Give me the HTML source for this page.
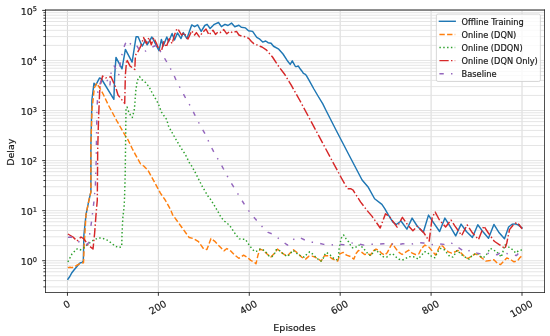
<!DOCTYPE html>
<html><head><meta charset="utf-8"><title>Delay vs Episodes</title><style>
html,body{margin:0;padding:0;background:#fff;width:550px;height:336px;overflow:hidden}
svg{display:block}
</style></head><body>
<svg width="550" height="336" viewBox="0 0 550 336">
<defs><clipPath id="ax"><rect x="45.5" y="10" width="499" height="282.5"/></clipPath></defs>
<rect x="0" y="0" width="550" height="336" fill="#ffffff"/>
<g clip-path="url(#ax)"><line x1="67.45" y1="10" x2="67.45" y2="292.5" stroke="#d4d4d4" stroke-width="0.9"/><line x1="158.36" y1="10" x2="158.36" y2="292.5" stroke="#d4d4d4" stroke-width="0.9"/><line x1="249.27" y1="10" x2="249.27" y2="292.5" stroke="#d4d4d4" stroke-width="0.9"/><line x1="340.18" y1="10" x2="340.18" y2="292.5" stroke="#d4d4d4" stroke-width="0.9"/><line x1="431.09" y1="10" x2="431.09" y2="292.5" stroke="#d4d4d4" stroke-width="0.9"/><line x1="522" y1="10" x2="522" y2="292.5" stroke="#d4d4d4" stroke-width="0.9"/><line x1="45.5" y1="286.88" x2="544.5" y2="286.88" stroke="#e2e2e2" stroke-width="0.9"/><line x1="45.5" y1="280.62" x2="544.5" y2="280.62" stroke="#e2e2e2" stroke-width="0.9"/><line x1="45.5" y1="275.77" x2="544.5" y2="275.77" stroke="#e2e2e2" stroke-width="0.9"/><line x1="45.5" y1="271.81" x2="544.5" y2="271.81" stroke="#e2e2e2" stroke-width="0.9"/><line x1="45.5" y1="268.45" x2="544.5" y2="268.45" stroke="#e2e2e2" stroke-width="0.9"/><line x1="45.5" y1="265.55" x2="544.5" y2="265.55" stroke="#e2e2e2" stroke-width="0.9"/><line x1="45.5" y1="262.99" x2="544.5" y2="262.99" stroke="#e2e2e2" stroke-width="0.9"/><line x1="45.5" y1="245.63" x2="544.5" y2="245.63" stroke="#e2e2e2" stroke-width="0.9"/><line x1="45.5" y1="236.82" x2="544.5" y2="236.82" stroke="#e2e2e2" stroke-width="0.9"/><line x1="45.5" y1="230.56" x2="544.5" y2="230.56" stroke="#e2e2e2" stroke-width="0.9"/><line x1="45.5" y1="225.71" x2="544.5" y2="225.71" stroke="#e2e2e2" stroke-width="0.9"/><line x1="45.5" y1="221.75" x2="544.5" y2="221.75" stroke="#e2e2e2" stroke-width="0.9"/><line x1="45.5" y1="218.39" x2="544.5" y2="218.39" stroke="#e2e2e2" stroke-width="0.9"/><line x1="45.5" y1="215.49" x2="544.5" y2="215.49" stroke="#e2e2e2" stroke-width="0.9"/><line x1="45.5" y1="212.93" x2="544.5" y2="212.93" stroke="#e2e2e2" stroke-width="0.9"/><line x1="45.5" y1="195.57" x2="544.5" y2="195.57" stroke="#e2e2e2" stroke-width="0.9"/><line x1="45.5" y1="186.76" x2="544.5" y2="186.76" stroke="#e2e2e2" stroke-width="0.9"/><line x1="45.5" y1="180.5" x2="544.5" y2="180.5" stroke="#e2e2e2" stroke-width="0.9"/><line x1="45.5" y1="175.65" x2="544.5" y2="175.65" stroke="#e2e2e2" stroke-width="0.9"/><line x1="45.5" y1="171.69" x2="544.5" y2="171.69" stroke="#e2e2e2" stroke-width="0.9"/><line x1="45.5" y1="168.33" x2="544.5" y2="168.33" stroke="#e2e2e2" stroke-width="0.9"/><line x1="45.5" y1="165.43" x2="544.5" y2="165.43" stroke="#e2e2e2" stroke-width="0.9"/><line x1="45.5" y1="162.87" x2="544.5" y2="162.87" stroke="#e2e2e2" stroke-width="0.9"/><line x1="45.5" y1="145.51" x2="544.5" y2="145.51" stroke="#e2e2e2" stroke-width="0.9"/><line x1="45.5" y1="136.7" x2="544.5" y2="136.7" stroke="#e2e2e2" stroke-width="0.9"/><line x1="45.5" y1="130.44" x2="544.5" y2="130.44" stroke="#e2e2e2" stroke-width="0.9"/><line x1="45.5" y1="125.59" x2="544.5" y2="125.59" stroke="#e2e2e2" stroke-width="0.9"/><line x1="45.5" y1="121.63" x2="544.5" y2="121.63" stroke="#e2e2e2" stroke-width="0.9"/><line x1="45.5" y1="118.27" x2="544.5" y2="118.27" stroke="#e2e2e2" stroke-width="0.9"/><line x1="45.5" y1="115.37" x2="544.5" y2="115.37" stroke="#e2e2e2" stroke-width="0.9"/><line x1="45.5" y1="112.81" x2="544.5" y2="112.81" stroke="#e2e2e2" stroke-width="0.9"/><line x1="45.5" y1="95.45" x2="544.5" y2="95.45" stroke="#e2e2e2" stroke-width="0.9"/><line x1="45.5" y1="86.64" x2="544.5" y2="86.64" stroke="#e2e2e2" stroke-width="0.9"/><line x1="45.5" y1="80.38" x2="544.5" y2="80.38" stroke="#e2e2e2" stroke-width="0.9"/><line x1="45.5" y1="75.53" x2="544.5" y2="75.53" stroke="#e2e2e2" stroke-width="0.9"/><line x1="45.5" y1="71.57" x2="544.5" y2="71.57" stroke="#e2e2e2" stroke-width="0.9"/><line x1="45.5" y1="68.21" x2="544.5" y2="68.21" stroke="#e2e2e2" stroke-width="0.9"/><line x1="45.5" y1="65.31" x2="544.5" y2="65.31" stroke="#e2e2e2" stroke-width="0.9"/><line x1="45.5" y1="62.75" x2="544.5" y2="62.75" stroke="#e2e2e2" stroke-width="0.9"/><line x1="45.5" y1="45.39" x2="544.5" y2="45.39" stroke="#e2e2e2" stroke-width="0.9"/><line x1="45.5" y1="36.58" x2="544.5" y2="36.58" stroke="#e2e2e2" stroke-width="0.9"/><line x1="45.5" y1="30.32" x2="544.5" y2="30.32" stroke="#e2e2e2" stroke-width="0.9"/><line x1="45.5" y1="25.47" x2="544.5" y2="25.47" stroke="#e2e2e2" stroke-width="0.9"/><line x1="45.5" y1="21.51" x2="544.5" y2="21.51" stroke="#e2e2e2" stroke-width="0.9"/><line x1="45.5" y1="18.15" x2="544.5" y2="18.15" stroke="#e2e2e2" stroke-width="0.9"/><line x1="45.5" y1="15.25" x2="544.5" y2="15.25" stroke="#e2e2e2" stroke-width="0.9"/><line x1="45.5" y1="12.69" x2="544.5" y2="12.69" stroke="#e2e2e2" stroke-width="0.9"/><line x1="45.5" y1="260.7" x2="544.5" y2="260.7" stroke="#e2e2e2" stroke-width="0.9"/><line x1="45.5" y1="210.64" x2="544.5" y2="210.64" stroke="#e2e2e2" stroke-width="0.9"/><line x1="45.5" y1="160.58" x2="544.5" y2="160.58" stroke="#e2e2e2" stroke-width="0.9"/><line x1="45.5" y1="110.52" x2="544.5" y2="110.52" stroke="#e2e2e2" stroke-width="0.9"/><line x1="45.5" y1="60.46" x2="544.5" y2="60.46" stroke="#e2e2e2" stroke-width="0.9"/><line x1="45.5" y1="10.4" x2="544.5" y2="10.4" stroke="#e2e2e2" stroke-width="0.9"/></g>
<g clip-path="url(#ax)"><path d="M67.9 279.2 L69.8 276.5 L71.5 273.3 L74 270 L76.5 267 L78.7 264.2 L80 263 L82 262.4 L83.3 261.3 L83.9 235 L86 214.7 L88.7 201.3 L90.9 191.9 L90.9 145 L91.9 100 L94 83.2 L95.5 85.6 L99.6 77.9 L101.5 79 L113.9 99.3 L114.7 75 L116 57.4 L122 68.8 L125.4 49.4 L132.1 62.1 L136.1 36.7 L138.1 36.7 L141.5 44.7 L142.4 46 L145.4 40 L147.1 44.8 L151.9 37 L156 44.8 L159 50.7 L161.4 39.4 L163.2 46 L166.8 37 L168.6 41.8 L172.1 33.5 L174.5 40 L177.5 32.9 L181 38.6 L183.3 32.6 L186.9 38.6 L191.7 24.9 L194.6 26.7 L197.6 24.9 L201.2 31.4 L204.8 25.5 L207.1 24.3 L210.1 28.5 L214.3 24.3 L218.5 22.5 L221.4 26.7 L225 24.3 L228 25.5 L231.5 23.1 L234.8 26.7 L238.9 25.2 L241.3 27.3 L245.5 27.9 L248.5 30.8 L252.6 31.4 L256.8 37.4 L259.8 39.2 L262.7 42.1 L265.7 41 L268.1 42.7 L271.1 43.3 L273.5 46.25 L278.75 49.2 L283 54 L287 60.2 L290.2 64.4 L292.3 60.8 L295.4 66.5 L296.5 66.6 L298.2 66 L299.7 68.2 L302 71.2 L303.4 73.4 L304.9 74.1 L306.4 75.6 L309.4 80.8 L313.9 89 L318.3 96.5 L322.8 103.9 L325.8 110 L336 130 L349 155 L362.1 180 L368.3 187.3 L374.6 198.75 L381.9 204.3 L384.6 208.4 L388.2 214.6 L392.7 221.8 L396.25 224.5 L401 221 L406.9 229.2 L412.1 218.1 L417.3 226.25 L423.3 232.2 L428.5 215.1 L433 221.8 L439.6 231.5 L444.9 218.1 L450.4 226.8 L455.7 235.9 L461.1 224.1 L466.4 231.5 L472.4 237.5 L477.8 224.8 L483.2 232.1 L488.5 238.2 L493.9 224.4 L499.2 232.8 L504.5 238.7 L508.6 227 L512.1 224.3 L515.7 223.9 L518.4 225.2 L522 227.9" fill="none" stroke="#1f77b4" stroke-width="1.45" stroke-linejoin="round" stroke-linecap="square"/><path d="M67.9 267.6 L70 267.2 L72 267.6 L74.5 267 L77 265.2 L79.5 263.8 L82 263.2 L83.5 262.8 L84.2 245 L86 214.7 L88.7 201.3 L90.9 191.9 L90.9 145 L92 110 L94.3 88 L96.7 83.2 L100 88.3 L103.6 95 L108.3 105 L116.7 120.6 L125 135.2 L128.1 140 L132.3 148.75 L135.4 154.6 L140.6 164 L143.75 166 L147.9 170.2 L154.2 181.7 L160.4 193.1 L165.2 200 L170.8 210 L172.5 214.6 L180.8 226 L189.2 237.5 L193.3 238.5 L198.5 241.7 L203.75 249 L206.9 249.6 L211 238.5 L215.2 241.7 L219.2 246.1 L223.9 250.8 L226.9 248.5 L230.5 250.8 L234.6 255 L238.8 258.3 L243.6 255.2 L247.7 257.6 L250.7 260.4 L254.3 262.1 L256 263.8 L258 255.1 L260 249.1 L263.4 250.4 L266.8 253.8 L270.8 257.1 L274.1 253.8 L277.5 249.1 L281.5 252.4 L284.2 254.5 L287.5 255.8 L290.2 253.1 L293.5 249.8 L297.6 253.1 L301.6 257.1 L305.6 259.1 L309 256.1 L312 256.1 L315 257.1 L318.4 259.1 L321.1 261.1 L324.4 255.8 L328.4 255.8 L331.8 258.5 L335.1 260.1 L337.8 261.1 L339.8 253.8 L343.2 252.4 L346.5 255.1 L350.5 256.5 L353.9 259.1 L355.9 253.8 L358.5 250.4 L361.9 252.4 L364.6 254.5 L367.9 253.8 L370.6 255.1 L372.7 251.1 L376 249.1 L378.7 250.4 L381.4 253.1 L384.7 255.1 L387.4 252.4 L390.1 247.1 L392.1 243.7 L394.8 247.1 L398.1 251.8 L402.1 254.5 L406.1 251.8 L408.8 250.2 L412.2 253.1 L415.5 254.5 L418.9 253.8 L421.5 248.4 L424.9 245.1 L428.9 247.1 L432.9 251.8 L435.5 255 L437.7 250.4 L440.4 245.1 L443 246.4 L445.7 249.8 L448.4 251.8 L451.7 253.1 L455.1 251.8 L457.8 250.4 L460.4 252.4 L463.8 255.8 L467.8 258.5 L471.1 256.5 L475.2 253.8 L479.2 255.8 L482.5 258.5 L485.9 261.1 L489.9 260.5 L493.9 259.8 L497.9 263.8 L500.6 264.5 L503.9 261.1 L506.8 257.9 L511.25 260 L514 261.8 L517.5 260.9 L520.2 257.3 L522 256" fill="none" stroke="#ff7f0e" stroke-width="1.45" stroke-linejoin="round" stroke-linecap="butt" stroke-dasharray="5.37,2.32"/><path d="M67.9 261.9 L72 253.9 L77 248.9 L80 250 L83 248.5 L87 245 L92 241 L98 238 L102 238 L105 239.3 L108 240.5 L111 242.9 L115.7 246.4 L119.3 247.6 L121.7 246.4 L122.1 232 L122.9 216.7 L124 208.3 L124.5 198.8 L125.2 175 L125.5 150 L126 109.2 L127 107 L129.2 113.3 L132.3 117.5 L134.4 109.2 L135.8 90.7 L137.3 80.3 L139.6 76.6 L141.8 79.6 L145.5 82.5 L149.2 87 L152.2 93 L155.2 98.2 L158.2 103.4 L161.4 112 L166.7 119.6 L168.6 126.4 L175.7 139 L181 148 L185.4 154.6 L190 164 L191.7 166 L196.25 174.4 L202.5 186.9 L208.75 197.3 L209.9 198.3 L214 204.8 L217.8 211.4 L221.4 217.9 L224.6 221.2 L229.5 225.3 L232.8 230.2 L236.1 235.1 L239.4 238.9 L241.8 239.3 L245.4 239.3 L247.4 242.4 L249.5 245.5 L252 248.8 L254.7 251.5 L257.4 251.1 L260 249.1 L263 249.8 L266.1 252.4 L268.8 255.8 L272.1 256.5 L274.8 253.1 L276.1 249.8 L278.8 249.8 L282.2 253.1 L284.8 255.1 L287.5 256.5 L290.2 253.8 L292.9 250.4 L294.9 251.8 L298.2 254.5 L301.6 256.5 L304.3 257.1 L306.3 254.7 L309.7 251.8 L312.4 253.8 L315.7 257.1 L318.4 259.5 L321.1 261.1 L323.1 258.5 L324.4 255.1 L326.4 252.4 L328.4 253.8 L331.1 255.8 L333.8 258.5 L337.1 259.8 L338.5 257.1 L339.1 249.1 L341.1 238.4 L343.6 235 L345.8 238.4 L348.5 241.7 L350.5 245.1 L352.5 247.8 L355.2 247.8 L357.9 245.1 L360.6 245.1 L362.6 247.8 L365.2 250.4 L367.9 253.8 L370.6 255.8 L373.3 252.4 L375.4 249.8 L378.7 252.4 L381.4 255.8 L384.1 257.1 L386.7 257.1 L390.1 254.5 L392.8 253.8 L395.4 256.5 L398.8 259.1 L402.1 260.1 L404.8 259.1 L408.2 256.9 L411.5 256.5 L414.8 257.1 L418.2 259.1 L422.2 254.5 L424.2 251.8 L426.2 251.8 L428.9 253.8 L431.6 256.5 L434.9 257.8 L437.7 251.8 L440.4 248.4 L444.4 249.8 L447 253.1 L449.7 256.5 L453.1 257.1 L457.1 250.4 L459.8 253.1 L463.1 255.8 L466.5 257.8 L469.1 259.1 L471.8 255.8 L475.2 253.8 L477.8 253.8 L480.5 256.5 L483.2 257.8 L486.5 254.5 L488.5 251.1 L490.6 248.4 L492.6 249.8 L495.9 251.1 L498.6 253.8 L501.3 257.1 L505 244.8 L509.5 247.5 L512.1 249.3 L515.7 252.9 L519.3 250.2 L522 250" fill="none" stroke="#2ca02c" stroke-width="1.45" stroke-linejoin="round" stroke-linecap="butt" stroke-dasharray="1.45,2.39"/><path d="M67.9 234 L73 237 L77 241 L81 237 L84 239 L88 245 L93 249 L94.6 233.5 L96 215 L97.3 200 L97.7 150 L98.5 120 L99.5 95 L100 86 L102.6 76 L105.6 77.9 L108.6 77.3 L111 76.7 L115.7 87.4 L118 95 L121.7 99.6 L124.7 103.4 L125.4 74.3 L126.7 59.5 L130.1 66.1 L134.8 69.5 L135.4 55.4 L138.1 51.4 L140.8 46.1 L143.6 37.6 L146.5 43.6 L148.9 37.6 L151.3 44.8 L153.7 37.6 L156.5 43.5 L159 49.5 L161.4 51.3 L163.8 41.8 L166.2 47.1 L169.2 38.8 L172.1 43.6 L174.5 35 L176.9 28.7 L178 29 L181.5 35 L184 32.6 L187 38 L188 39 L191.7 30.8 L194.6 35 L196.4 32.6 L199.4 36.8 L202.4 32.6 L206 29 L209 35 L213 30.2 L215.5 34.4 L217.9 32 L220.2 32.6 L223.8 29.6 L226.8 33.8 L229.8 31.4 L232.4 32.6 L236.5 31.4 L238.9 35 L241.9 36.4 L246.1 36.8 L249 38.6 L251.4 41.5 L253.8 43.6 L257.4 45.1 L259.8 46.3 L262 47 L266.25 49.8 L272.5 57 L278.75 66.5 L285 74.8 L291.25 85.2 L295.4 92.5 L299.6 100 L331.7 160 L341.4 178 L347.4 188.8 L351 188.8 L353 190 L360.5 201.9 L366.8 210.2 L372.1 216.4 L380.2 228 L385.5 213.75 L390 217.3 L397.1 227.1 L402.4 217.3 L407.6 224.8 L412.9 230.7 L417.3 226.25 L424 233 L429.2 241.1 L432.2 217.3 L435.2 212.1 L439.6 220.3 L445.6 227 L451 220.1 L455 226.1 L461.7 235.5 L467.1 224.8 L472.4 232.8 L478.5 239.5 L483.8 226.1 L488 232.5 L494.3 241.25 L499.6 244.8 L505 248.4 L506.8 243 L509.5 229.6 L513 225.2 L516.6 222.5 L519 224.5 L522 228.75" fill="none" stroke="#d62728" stroke-width="1.45" stroke-linejoin="round" stroke-linecap="butt" stroke-dasharray="9.28,2.32,1.45,2.32"/><path d="M67.9 237.4 L71 237 L77 241 L82 243 L86 245 L88.5 243 L90 232 L91.4 222.7 L92.7 212 L94 201 L95.4 185 L96.2 160 L96.6 130 L97 110 L97.9 90 L101 81 L104.4 77.9 L107 80 L109.8 86.8 L111.5 67.7 L114.5 66 L118.7 75.5 L120.5 60.7 L123.2 49.1 L126.8 40.2 L131 44.5 L135.4 43.4 L140.6 51.8 L145.8 51 L151.8 47.3 L157 45 L161.4 53.2 L163 55.5 L167.9 64 L172.9 72.9 L176.8 81.8 L181.5 90.5 L186.4 99.6 L191.8 108.6 L196 117.5 L200.7 126.4 L206 135.4 L209.8 144.2 L215 154.2 L220.2 162.9 L225 171.7 L229.6 180.6 L235.4 189.6 L240.6 198.3 L245.8 206.7 L251.5 214.5 L257.3 221.25 L262.5 227 L268.1 232.4 L273.5 234.4 L280.2 239.7 L287.5 245.1 L291.5 242.4 L294.9 237.7 L300.2 237.7 L307 241.1 L309.7 242.1 L316.4 242.4 L323.7 244.4 L331.1 245.1 L336.8 244.1 L343.8 244.8 L350 242.7 L357.2 243.7 L364 245.1 L370 244.1 L376 244.4 L383.4 243.7 L390 243.7 L396.8 245 L402.8 243.7 L410.8 244.4 L416.9 242.7 L423.5 243 L430.9 244.8 L437 243.7 L444.3 244.4 L450.4 242.4 L458 247.4 L465.8 252.4 L470.1 250.1 L477.2 253.1 L484.2 254.8 L489.2 253.1 L497 254.8 L501.9 251.8 L507.7 253.75 L516.6 255.5 L520.2 251.1 L522 250.5" fill="none" stroke="#9467bd" stroke-width="1.45" stroke-linejoin="round" stroke-linecap="butt" stroke-dasharray="4.35,7.25,1.45,7.25"/></g>
<g stroke="#222222" stroke-width="0.8" stroke-linecap="square" fill="none">
<line x1="45.5" y1="292.5" x2="45.5" y2="10"/>
<line x1="544.5" y1="292.5" x2="544.5" y2="10"/>
<line x1="45.5" y1="292.5" x2="544.5" y2="292.5"/>
<line x1="45.5" y1="10" x2="544.5" y2="10" stroke-width="1.1"/>
</g>
<g stroke="#000000"><line x1="67.45" y1="292.5" x2="67.45" y2="295.8" stroke-width="0.8"/><line x1="158.36" y1="292.5" x2="158.36" y2="295.8" stroke-width="0.8"/><line x1="249.27" y1="292.5" x2="249.27" y2="295.8" stroke-width="0.8"/><line x1="340.18" y1="292.5" x2="340.18" y2="295.8" stroke-width="0.8"/><line x1="431.09" y1="292.5" x2="431.09" y2="295.8" stroke-width="0.8"/><line x1="522" y1="292.5" x2="522" y2="295.8" stroke-width="0.8"/><line x1="45.5" y1="260.7" x2="42.2" y2="260.7" stroke-width="0.8"/><line x1="45.5" y1="210.64" x2="42.2" y2="210.64" stroke-width="0.8"/><line x1="45.5" y1="160.58" x2="42.2" y2="160.58" stroke-width="0.8"/><line x1="45.5" y1="110.52" x2="42.2" y2="110.52" stroke-width="0.8"/><line x1="45.5" y1="60.46" x2="42.2" y2="60.46" stroke-width="0.8"/><line x1="45.5" y1="10.4" x2="42.2" y2="10.4" stroke-width="0.8"/><line x1="45.5" y1="286.88" x2="43.4" y2="286.88" stroke-width="0.75"/><line x1="45.5" y1="280.62" x2="43.4" y2="280.62" stroke-width="0.75"/><line x1="45.5" y1="275.77" x2="43.4" y2="275.77" stroke-width="0.75"/><line x1="45.5" y1="271.81" x2="43.4" y2="271.81" stroke-width="0.75"/><line x1="45.5" y1="268.45" x2="43.4" y2="268.45" stroke-width="0.75"/><line x1="45.5" y1="265.55" x2="43.4" y2="265.55" stroke-width="0.75"/><line x1="45.5" y1="262.99" x2="43.4" y2="262.99" stroke-width="0.75"/><line x1="45.5" y1="245.63" x2="43.4" y2="245.63" stroke-width="0.75"/><line x1="45.5" y1="236.82" x2="43.4" y2="236.82" stroke-width="0.75"/><line x1="45.5" y1="230.56" x2="43.4" y2="230.56" stroke-width="0.75"/><line x1="45.5" y1="225.71" x2="43.4" y2="225.71" stroke-width="0.75"/><line x1="45.5" y1="221.75" x2="43.4" y2="221.75" stroke-width="0.75"/><line x1="45.5" y1="218.39" x2="43.4" y2="218.39" stroke-width="0.75"/><line x1="45.5" y1="215.49" x2="43.4" y2="215.49" stroke-width="0.75"/><line x1="45.5" y1="212.93" x2="43.4" y2="212.93" stroke-width="0.75"/><line x1="45.5" y1="195.57" x2="43.4" y2="195.57" stroke-width="0.75"/><line x1="45.5" y1="186.76" x2="43.4" y2="186.76" stroke-width="0.75"/><line x1="45.5" y1="180.5" x2="43.4" y2="180.5" stroke-width="0.75"/><line x1="45.5" y1="175.65" x2="43.4" y2="175.65" stroke-width="0.75"/><line x1="45.5" y1="171.69" x2="43.4" y2="171.69" stroke-width="0.75"/><line x1="45.5" y1="168.33" x2="43.4" y2="168.33" stroke-width="0.75"/><line x1="45.5" y1="165.43" x2="43.4" y2="165.43" stroke-width="0.75"/><line x1="45.5" y1="162.87" x2="43.4" y2="162.87" stroke-width="0.75"/><line x1="45.5" y1="145.51" x2="43.4" y2="145.51" stroke-width="0.75"/><line x1="45.5" y1="136.7" x2="43.4" y2="136.7" stroke-width="0.75"/><line x1="45.5" y1="130.44" x2="43.4" y2="130.44" stroke-width="0.75"/><line x1="45.5" y1="125.59" x2="43.4" y2="125.59" stroke-width="0.75"/><line x1="45.5" y1="121.63" x2="43.4" y2="121.63" stroke-width="0.75"/><line x1="45.5" y1="118.27" x2="43.4" y2="118.27" stroke-width="0.75"/><line x1="45.5" y1="115.37" x2="43.4" y2="115.37" stroke-width="0.75"/><line x1="45.5" y1="112.81" x2="43.4" y2="112.81" stroke-width="0.75"/><line x1="45.5" y1="95.45" x2="43.4" y2="95.45" stroke-width="0.75"/><line x1="45.5" y1="86.64" x2="43.4" y2="86.64" stroke-width="0.75"/><line x1="45.5" y1="80.38" x2="43.4" y2="80.38" stroke-width="0.75"/><line x1="45.5" y1="75.53" x2="43.4" y2="75.53" stroke-width="0.75"/><line x1="45.5" y1="71.57" x2="43.4" y2="71.57" stroke-width="0.75"/><line x1="45.5" y1="68.21" x2="43.4" y2="68.21" stroke-width="0.75"/><line x1="45.5" y1="65.31" x2="43.4" y2="65.31" stroke-width="0.75"/><line x1="45.5" y1="62.75" x2="43.4" y2="62.75" stroke-width="0.75"/><line x1="45.5" y1="45.39" x2="43.4" y2="45.39" stroke-width="0.75"/><line x1="45.5" y1="36.58" x2="43.4" y2="36.58" stroke-width="0.75"/><line x1="45.5" y1="30.32" x2="43.4" y2="30.32" stroke-width="0.75"/><line x1="45.5" y1="25.47" x2="43.4" y2="25.47" stroke-width="0.75"/><line x1="45.5" y1="21.51" x2="43.4" y2="21.51" stroke-width="0.75"/><line x1="45.5" y1="18.15" x2="43.4" y2="18.15" stroke-width="0.75"/><line x1="45.5" y1="15.25" x2="43.4" y2="15.25" stroke-width="0.75"/><line x1="45.5" y1="12.69" x2="43.4" y2="12.69" stroke-width="0.75"/></g>
<g fill="#1a1a1a" font-family="DejaVu Sans, Liberation Sans, sans-serif" font-size="9.5" style="stroke:#1a1a1a;stroke-width:0.2px">
<text transform="translate(66.65 304.17) rotate(-30)" text-anchor="middle" dominant-baseline="central">0</text>
<text transform="translate(157.56 307.19) rotate(-30)" text-anchor="middle" dominant-baseline="central">200</text>
<text transform="translate(248.47 307.19) rotate(-30)" text-anchor="middle" dominant-baseline="central">400</text>
<text transform="translate(339.38 307.19) rotate(-30)" text-anchor="middle" dominant-baseline="central">600</text>
<text transform="translate(430.29 307.19) rotate(-30)" text-anchor="middle" dominant-baseline="central">800</text>
<text transform="translate(521.2 308.7) rotate(-30)" text-anchor="middle" dominant-baseline="central">1000</text>
<text x="20.68" y="265.3">10<tspan font-size="6.65" dy="-3.61">0</tspan></text>
<text x="20.68" y="215.24">10<tspan font-size="6.65" dy="-3.61">1</tspan></text>
<text x="20.68" y="165.18">10<tspan font-size="6.65" dy="-3.61">2</tspan></text>
<text x="20.68" y="115.12">10<tspan font-size="6.65" dy="-3.61">3</tspan></text>
<text x="20.68" y="65.06">10<tspan font-size="6.65" dy="-3.61">4</tspan></text>
<text x="20.68" y="15">10<tspan font-size="6.65" dy="-3.61">5</tspan></text>
</g>
<g fill="#1a1a1a" font-family="DejaVu Sans, Liberation Sans, sans-serif" font-size="9.5" style="stroke:#1a1a1a;stroke-width:0.2px">
<text x="294.5" y="330.9" text-anchor="middle">Episodes</text>
<text transform="translate(13.9 152.2) rotate(-90)" text-anchor="middle">Delay</text>
</g>
<rect x="436.4" y="14.1" width="104" height="67.4" rx="1.65" ry="1.65" fill="#ffffff" fill-opacity="0.8" stroke="#cccccc" stroke-opacity="0.8" stroke-width="0.95"/>
<line x1="439.4" y1="21.3" x2="455.2" y2="21.3" stroke="#1f77b4" stroke-width="1.45" stroke-linecap="square"/>
<text x="461.6" y="24.8" fill="#1a1a1a" font-family="DejaVu Sans, Liberation Sans, sans-serif" font-size="8.25" style="stroke:#1a1a1a;stroke-width:0.2px">Offline Training</text>
<line x1="439.4" y1="34.4" x2="455.2" y2="34.4" stroke="#ff7f0e" stroke-width="1.45" stroke-linecap="butt" stroke-dasharray="5.37,2.32"/>
<text x="461.6" y="37.9" fill="#1a1a1a" font-family="DejaVu Sans, Liberation Sans, sans-serif" font-size="8.25" style="stroke:#1a1a1a;stroke-width:0.2px">Online (DQN)</text>
<line x1="439.4" y1="47.5" x2="455.2" y2="47.5" stroke="#2ca02c" stroke-width="1.45" stroke-linecap="butt" stroke-dasharray="1.45,2.39"/>
<text x="461.6" y="51" fill="#1a1a1a" font-family="DejaVu Sans, Liberation Sans, sans-serif" font-size="8.25" style="stroke:#1a1a1a;stroke-width:0.2px">Online (DDQN)</text>
<line x1="439.4" y1="60.6" x2="455.2" y2="60.6" stroke="#d62728" stroke-width="1.45" stroke-linecap="butt" stroke-dasharray="9.28,2.32,1.45,2.32"/>
<text x="461.6" y="64.1" fill="#1a1a1a" font-family="DejaVu Sans, Liberation Sans, sans-serif" font-size="8.25" style="stroke:#1a1a1a;stroke-width:0.2px">Online (DQN Only)</text>
<line x1="439.4" y1="73.7" x2="455.2" y2="73.7" stroke="#9467bd" stroke-width="1.45" stroke-linecap="butt" stroke-dasharray="4.35,7.25,1.45,7.25"/>
<text x="461.6" y="77.2" fill="#1a1a1a" font-family="DejaVu Sans, Liberation Sans, sans-serif" font-size="8.25" style="stroke:#1a1a1a;stroke-width:0.2px">Baseline</text>
</svg>
</body></html>
